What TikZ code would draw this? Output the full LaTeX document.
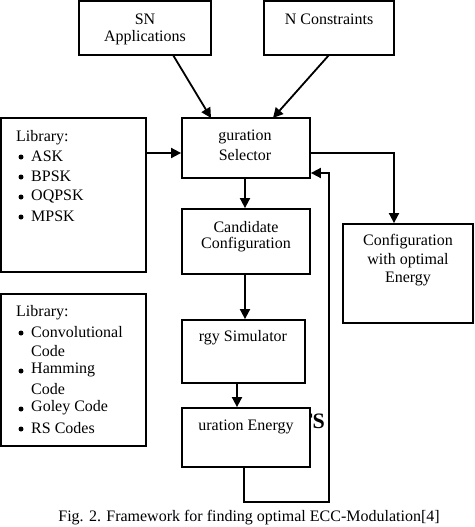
\documentclass[tikz,border=0pt]{standalone}
\usepackage{fontspec}
\setmainfont{Liberation Serif}
\usetikzlibrary{arrows.meta}
\begin{document}
\begin{tikzpicture}[x=1pt,y=-1pt,
  box/.style={draw,line width=1.8pt,inner sep=0pt},
  txt/.style={font=\fontsize{16}{19}\selectfont,inner sep=0pt,align=center},
  ltxt/.style={font=\fontsize{16}{19}\selectfont,inner sep=0pt,anchor=west},
  bul/.style={circle,fill=black,inner sep=0pt,minimum size=5pt},
  arr/.style={line width=1.8pt,-{Triangle[length=10pt,width=10pt]}}]
\useasboundingbox (0,0) rectangle (474,527);
% boxes
\node[box,minimum width=132pt,minimum height=54pt] (sn) at (145,28) {};
\node[box,minimum width=130pt,minimum height=54pt] (nc) at (329,28) {};
\node[box,minimum width=128pt,minimum height=60pt] (sel) at (246,148) {};
\node[box,minimum width=145pt,minimum height=154pt] (lib1) at (73.5,195) {};
\node[box,minimum width=128pt,minimum height=65pt] (cand) at (246,241.5) {};
\node[box,minimum width=130pt,minimum height=99pt] (opt) at (408,273.5) {};
\node[box,minimum width=123pt,minimum height=63pt] (sim) at (243.5,351.5) {};
\node[box,minimum width=145pt,minimum height=152pt] (lib2) at (73.5,370) {};
\node[font=\fontsize{22}{22}\selectfont\bfseries,inner sep=0pt,anchor=east] (ts) at (325,421) {TS};
\node[box,fill=white,minimum width=128pt,minimum height=59pt] (en) at (246,437.5) {};
% texts
\node[txt] (snt1) at (145,19) {SN};
\node[txt] (snt2) at (145,38) {Applications};
\node[txt] (nct) at (329,19) {N Constraints};
\node[txt] (selt1) at (245,137) {guration};
\node[txt] (selt2) at (245,155) {Selector};
\node[txt] (cat1) at (246,227) {Candidate};
\node[txt] (cat2) at (246,245) {Configuration};
\node[txt] (opt1) at (408,242) {Configuration};
\node[txt] (opt2) at (408,261) {with optimal};
\node[txt] (opt3) at (408,279) {Energy};
\node[txt] (simt) at (243,338) {rgy Simulator};
\node[txt] (ent) at (246,427) {uration Energy};
\node[ltxt] (l1a) at (16,138) {Library:};
\node[ltxt] (l1b) at (31,156) {ASK};
\node[ltxt] (l1c) at (31,176) {BPSK};
\node[ltxt] (l1d) at (31,196) {OQPSK};
\node[ltxt] (l1e) at (31,216) {MPSK};
\node[bul] (b1b) at (21,157) {};
\node[bul] (b1c) at (21,177) {};
\node[bul] (b1d) at (21,197) {};
\node[bul] (b1e) at (21,217) {};
\node[ltxt] (l2a) at (16,313) {Library:};
\node[ltxt] (l2b) at (31,332) {Convolutional};
\node[ltxt] (l2c) at (31,351) {Code};
\node[ltxt] (l2d) at (31,370) {Hamming};
\node[ltxt] (l2e) at (31,389) {Code};
\node[ltxt] (l2f) at (31,408) {Goley Code};
\node[ltxt] (l2g) at (31,428) {RS Codes};
\node[bul] (b2b) at (21,333) {};
\node[bul] (b2d) at (21,371) {};
\node[bul] (b2f) at (21,409) {};
\node[bul] (b2g) at (21,429) {};
\node[txt] (cap) at (249,518) {Fig. 2. Framework for finding optimal ECC-Modulation[4]};
% connectors
\coordinate (snA) at (173,55);
\coordinate (selA) at (211,118);
\coordinate (ncA) at (329,55);
\coordinate (selB) at (273,118);
\draw[arr] (snA) -- (selA);
\draw[arr] (ncA) -- (selB);
\draw[arr] (lib1.east |- 0,153) -- (sel.west |- 0,153);
\draw[arr] (sel.east |- 0,153) -- (394,153) -- (opt.north -| 394,0);
\draw[arr] (sel.south -| 245,0) -- (cand.north -| 245,0);
\draw[arr] (cand.south -| 245,0) -- (sim.north -| 245,0);
\draw[arr] (sim.south -| 237,0) -- (en.north -| 237,0);
\coordinate (fb1) at (244,502);
\coordinate (fb2) at (329,502);
\coordinate (fb3) at (329,173);
\draw[arr] (en.south -| 244,0) -- (fb1) -- (fb2) -- (fb3) -- (sel.east |- 0,173);
\end{tikzpicture}
\end{document}
